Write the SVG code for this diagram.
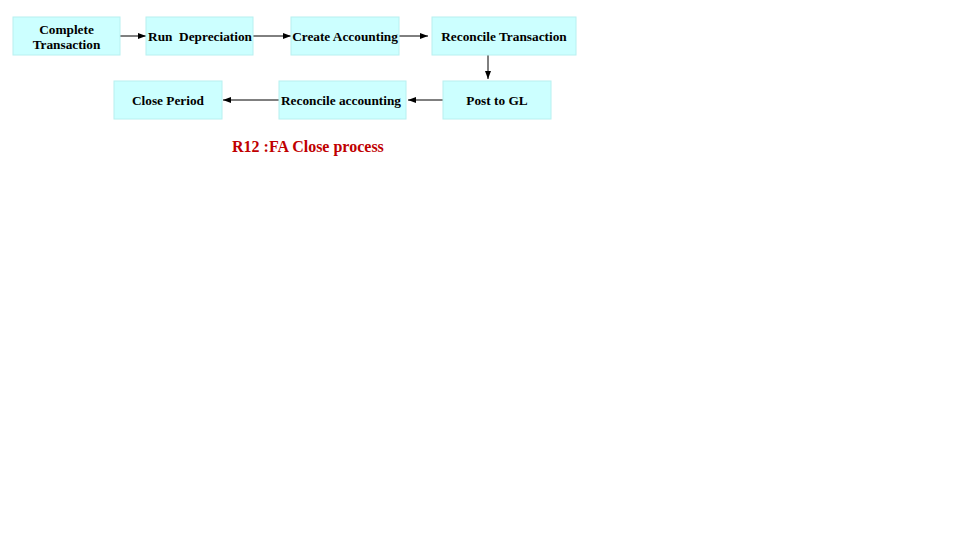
<svg xmlns="http://www.w3.org/2000/svg" width="960" height="540" viewBox="0 0 960 540">
<defs>
<style>
.box{fill:#ccffff;stroke:#b8f0f0;stroke-width:1}
.lbl{font-family:"Liberation Serif","Times New Roman",serif;font-weight:bold;font-size:13.3px;fill:#000;text-anchor:middle}
.con{stroke:#000;stroke-width:1;fill:none;marker-end:url(#ah)}
.title{font-family:"Liberation Serif","Times New Roman",serif;font-weight:bold;font-size:16px;fill:#c00000}
</style>
<marker id="ah" viewBox="0 0 8 6" refX="8" refY="3" markerWidth="8" markerHeight="6" markerUnits="userSpaceOnUse" orient="auto">
<path d="M0,0 L8,3 L0,6 z" fill="#000"/>
</marker>
</defs>
<rect width="960" height="540" fill="#fff"/>
<g id="connectors">
<line class="con" x1="120" y1="36" x2="146" y2="36"/>
<line class="con" x1="253" y1="36" x2="291" y2="36"/>
<line class="con" x1="399" y1="36" x2="428" y2="36"/>
<line class="con" x1="488" y1="55" x2="488" y2="79"/>
<line class="con" x1="443" y1="100" x2="408" y2="100"/>
<line class="con" x1="279" y1="100" x2="223" y2="100"/>
</g>
<g id="complete-transaction">
<rect class="box" x="13" y="17" width="107" height="38"/>
<text class="lbl" x="66.5" y="33.5">Complete</text>
<text class="lbl" x="66.5" y="48.5">Transaction</text>
</g>
<g id="run-depreciation">
<rect class="box" x="146" y="17" width="107" height="38"/>
<text class="lbl" x="200" y="41">Run&#160; Depreciation</text>
</g>
<g id="create-accounting">
<rect class="box" x="291" y="17" width="108" height="38"/>
<text class="lbl" x="345" y="41">Create Accounting</text>
</g>
<g id="reconcile-transaction">
<rect class="box" x="432" y="17" width="144" height="38"/>
<text class="lbl" x="504" y="41">Reconcile Transaction</text>
</g>
<g id="post-to-gl">
<rect class="box" x="443" y="81" width="108" height="38"/>
<text class="lbl" x="497" y="105">Post to GL</text>
</g>
<g id="reconcile-accounting">
<rect class="box" x="279" y="81" width="127" height="38"/>
<text class="lbl" x="341" y="105">Reconcile accounting</text>
</g>
<g id="close-period">
<rect class="box" x="114" y="81" width="108" height="38"/>
<text class="lbl" x="168" y="105">Close Period</text>
</g>
<text class="title" x="232" y="152">R12 :FA Close process</text>
</svg>
